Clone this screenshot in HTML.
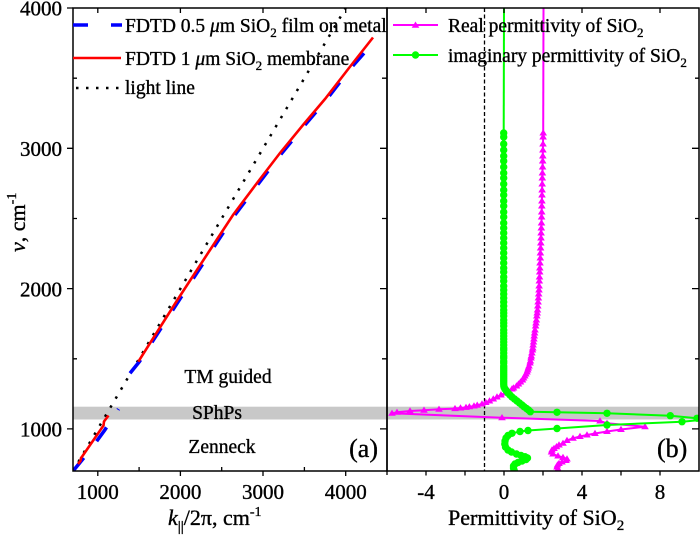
<!DOCTYPE html>
<html>
<head>
<meta charset="utf-8">
<style>
html,body{margin:0;padding:0;background:#fff;}
svg{display:block;}
text{font-family:"Liberation Serif","DejaVu Serif",serif;fill:#000;stroke:#000;stroke-width:0.35px;}
</style>
</head>
<body>
<svg width="700" height="536" viewBox="0 0 700 536" xmlns="http://www.w3.org/2000/svg">
<defs>
  <clipPath id="cl"><rect x="73" y="8" width="314" height="463"/></clipPath>
  <clipPath id="cr"><rect x="387" y="8" width="312" height="463"/></clipPath>
  <marker id="tri" markerUnits="userSpaceOnUse" markerWidth="10" markerHeight="10" refX="5" refY="5.5" orient="0" overflow="visible">
    <path d="M5,1.8 L8.8,8 L1.2,8 Z" fill="#ff00ff"/>
  </marker>
  <marker id="cir" markerUnits="userSpaceOnUse" markerWidth="10" markerHeight="10" refX="5" refY="5" orient="0" overflow="visible">
    <circle cx="5" cy="5" r="3.7" fill="#00ff00"/>
  </marker>
</defs>

<rect x="0" y="0" width="700" height="536" fill="#fff"/>

<!-- gray SPhP band -->
<rect x="73" y="406.7" width="626" height="12.8" fill="#c8c8c8"/>

<!-- LEFT PANEL CURVES -->
<g clip-path="url(#cl)" fill="none">
  <path d="M73,471 L345.7,8" stroke="#000" stroke-width="2.5" stroke-dasharray="2.5 8"/>
  <path d="M73,471 L75.5,468 L91.5,448.3 L104.8,430 L118.5,409" stroke="#0000ff" stroke-width="3.6" stroke-dasharray="17 21"/>
  <path d="M130,373.3 L139.5,361.5 L179.5,299.5 L211.5,250.5 L234.5,215.5 L258.5,183.5 L281.5,153.5 L304.5,125.5 L326.5,99.5 L350.5,68.5 L376.5,39" stroke="#0000ff" stroke-width="3.6" stroke-dasharray="17 21"/>
  <path d="M78,464 L80.5,461 L81,458 L82.5,456 L103.5,425.5 L104,421.5 L105.5,419.5 L108.5,415.5" stroke="#ff0000" stroke-width="2.6"/>
  <path d="M138.3,361.7 L178,299 L210,250 L233,215 L257,183 L280,153 L303,125 L325,99 L349,68 L373,37.5" stroke="#ff0000" stroke-width="2.6"/>
</g>

<!-- RIGHT PANEL CURVES -->
<g clip-path="url(#cr)" fill="none">
  <path d="M484.5,8 L484.5,471" stroke="#000" stroke-width="1.3" stroke-dasharray="4 2.5"/>
  <path d="M543.5,8 L543.2,133" stroke="#ff00ff" stroke-width="2"/>
  <polyline stroke="#ff00ff" stroke-width="2" stroke-linejoin="round" marker-start="url(#tri)" marker-mid="url(#tri)" marker-end="url(#tri)"
   points="543.2,133 543.1,137 543,144 542.9,150 542.8,156 542.7,161 542.6,167 542.4,173 542.3,178 542.2,184 542.1,190 542,195 541.9,201 541.8,206 541.7,212 541.6,217 541.5,223 541.3,228 541.1,233 541,238 540.8,243 540.6,248 540.4,253 540.3,258 540,263 539.8,268 539.7,272 539.5,277 539.3,281 539.1,286 539,290 538.7,294 538.4,298 538.1,302 537.8,306 537.5,310 537.2,313 536.8,316 536.4,320 536,323 535.6,326 535,330 534.6,333 534.2,336 533.9,339 533.5,342 533.1,345 532.8,348 532.5,350 531.9,353 531.3,356 531,358 530.4,361 530,363 529,366 528.3,368 527.7,370 527,372 525.9,374 524.8,376 523.6,378 522.5,380 520.5,382 518.5,384 516.5,386 513.5,388 512,389 508.5,391 505,393 501,395 497,397 493.3,399 489.5,401 485.8,402.5 482,404 477.2,405.2 474,406 469.4,406.8 466,407.4 460.5,408 455,408.6 439,409.3 424,410.2 410,411 397,412.3 392,413.3 502,417.7 600,421 607,423.3 645,426.7 621,429.5 607,431.5 595,433.5 587,435 580,436.5 573,438.3 567,440.5 563,443.3 559,445 556.5,446.7 554,448.5 552,450 551.5,452 553,454 558,456 563,457.5 567,459 566,460.5 562,462 559,463.5 557.5,465 557,467 558,469 559,471"/>
  <path d="M504,8 L503.7,133" stroke="#00ff00" stroke-width="2"/>
  <polyline stroke="#00ff00" stroke-width="2" stroke-linejoin="round" marker-start="url(#cir)" marker-mid="url(#cir)" marker-end="url(#cir)"
   points="503.7,133 503.7,137 503.7,144 503.7,150 503.7,156 503.7,161 503.7,167 503.7,173 503.7,178 503.7,184 503.7,190 503.7,195 503.7,201 503.7,206 503.7,212 503.7,217 503.7,223 503.7,228 503.7,233 503.7,238 503.7,243 503.7,248 503.7,253 503.7,258 503.7,263 503.7,268 503.7,272 503.7,277 503.7,281 503.7,286 503.7,290 503.7,294 503.7,298 503.7,302 503.7,306 503.7,310 503.7,313 503.7,316 503.7,320 503.7,323 503.7,326 503.7,330 503.7,333 503.7,336 503.7,339 503.7,342 503.7,345 503.7,348 503.7,350 503.7,353 503.7,356 503.7,358 503.7,361 503.7,363 503.7,366 503.7,368 503.7,370 503.7,372 503.7,374 503.7,376 503.7,378 503.7,380 503.7,382 503.7,384 503.8,386 504.2,387.5 505,389 506.5,391 508,393 510,395 512,397 514.5,399 517,401 519.5,403 522,405 524,406.7 526.5,408.5 528.5,410 530.3,411.7 557,412.3 607,413.3 670.3,415.7 697,418.3 706,419.5 682,421.7 607,425 557,428.5 528,430.5 520,431.5 512,433.3 508,435.5 506,438 505,441 504.8,444 505.5,447 508,450 511.5,452 516.5,454 521,455.5 525,456.7 527.5,458 526,459.5 522,461 518,462.5 515,464 513.5,466 513.5,468 514,470 514.5,471.5"/>
</g>

<!-- AXES FRAMES -->
<g fill="none" stroke="#000" stroke-width="1.5">
  <rect x="73" y="8" width="314" height="463"/>
  <rect x="387" y="8" width="312" height="463"/>
</g>

<!-- TICKS -->
<g stroke="#000" stroke-width="1.3" fill="none">
  <path d="M67,428.9 H73 M67,288.6 H73 M67,148.3 H73 M67,8 H73"/>
  <path d="M73,358.8 H77 M73,218.5 H77 M73,78.2 H77"/>
  <path d="M380,428.9 H387 M380,288.6 H387 M380,148.3 H387 M382,358.8 H387 M382,218.5 H387 M382,78.2 H387"/>
  <path d="M692,428.9 H699 M692,288.6 H699 M692,148.3 H699 M695,358.8 H699 M695,218.5 H699 M695,78.2 H699"/>
  <path d="M97.8,471 V476 M180.4,471 V476 M263,471 V476 M345.7,471 V476"/>
  <path d="M139.1,471 V467 M221.7,471 V467 M304.4,471 V467 M387,471 V475"/>
  <path d="M426,471 V475.5 M465,471 V475.5 M504,471 V475.5 M543,471 V475.5 M582,471 V475.5 M621,471 V475.5 M660,471 V475.5"/>
  <path d="M97.8,8 V13 M180.4,8 V13 M263,8 V13 M345.7,8 V13"/>
  <path d="M426,8 V13 M504,8 V13 M582,8 V13 M660,8 V13"/>
</g>

<!-- TICK LABELS -->
<g font-size="21" style="stroke-width:0.5px">
  <text x="62" y="436.5" text-anchor="end">1000</text>
  <text x="62" y="296.3" text-anchor="end">2000</text>
  <text x="62" y="156" text-anchor="end">3000</text>
  <text x="62" y="15.7" text-anchor="end">4000</text>
  <text x="97.8" y="499" text-anchor="middle">1000</text>
  <text x="180.4" y="499" text-anchor="middle">2000</text>
  <text x="263" y="499" text-anchor="middle">3000</text>
  <text x="345.7" y="499" text-anchor="middle">4000</text>
  <text x="426" y="499" text-anchor="middle">-4</text>
  <text x="504" y="499" text-anchor="middle">0</text>
  <text x="582" y="499" text-anchor="middle">4</text>
  <text x="660" y="499" text-anchor="middle">8</text>
</g>

<!-- AXIS TITLES -->
<text x="168" y="525" font-size="22"><tspan font-style="italic">k</tspan><tspan font-size="15" dy="6">||</tspan><tspan dy="-6">/2π, cm</tspan><tspan font-size="14" dy="-9">-1</tspan></text>
<text x="448" y="525" font-size="22">Permittivity of SiO<tspan font-size="15" dy="5">2</tspan></text>
<text transform="translate(25,252) rotate(-90)" font-size="22"><tspan font-style="italic">ν</tspan>, cm<tspan font-size="14" dy="-9">-1</tspan></text>

<!-- LEFT LEGEND -->
<g fill="none">
  <path d="M73,25 H122" stroke="#0000ff" stroke-width="3.6" stroke-dasharray="15 23"/>
  <path d="M73,58 H121" stroke="#ff0000" stroke-width="2.6"/>
  <path d="M76,88 H121" stroke="#000" stroke-width="2.5" stroke-dasharray="2.5 7.5"/>
</g>
<g font-size="19.5">
  <text x="125" y="32">FDTD 0.5 <tspan font-style="italic">μ</tspan>m SiO<tspan font-size="13" dy="5">2</tspan><tspan dy="-5"> film on metal</tspan></text>
  <text x="125" y="65">FDTD 1 <tspan font-style="italic">μ</tspan>m SiO<tspan font-size="13" dy="5">2</tspan><tspan dy="-5"> membrane</tspan></text>
  <text x="125" y="94">light line</text>
</g>

<!-- RIGHT LEGEND -->
<path d="M393,25 H438" stroke="#ff00ff" stroke-width="2" fill="none"/>
<path d="M415.5,21.5 L419.3,27.7 L411.7,27.7 Z" fill="#ff00ff"/>
<path d="M393,55 H438" stroke="#00ff00" stroke-width="2" fill="none"/>
<circle cx="415.5" cy="55" r="3.7" fill="#00ff00"/>
<g font-size="19.5">
  <text x="448" y="32">Real permittivity of SiO<tspan font-size="13" dy="5">2</tspan></text>
  <text x="448" y="62">imaginary permittivity of SiO<tspan font-size="13" dy="5">2</tspan></text>
</g>

<!-- ANNOTATIONS -->
<g font-size="19.5" text-anchor="middle">
  <text x="228" y="383">TM guided</text>
  <text x="217" y="419">SPhPs</text>
  <text x="222" y="453">Zenneck</text>
</g>
<text x="378" y="457" font-size="26" text-anchor="end">(a)</text>
<text x="657" y="457" font-size="26">(b)</text>
</svg>
</body>
</html>
